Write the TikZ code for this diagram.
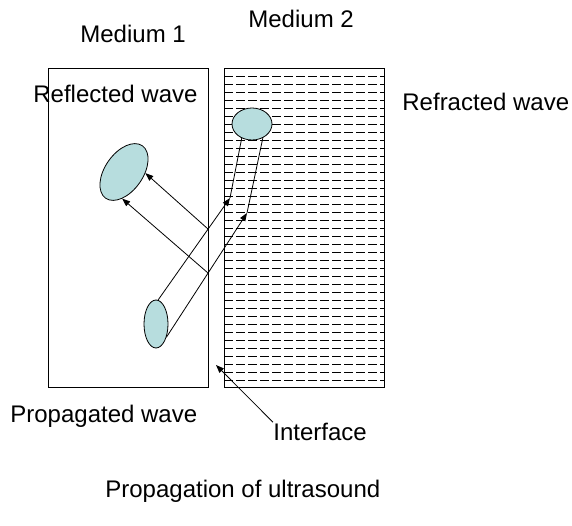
\documentclass[tikz,border=0pt]{standalone}
\usepackage{fontspec}
\setmainfont{Liberation Sans}
\usetikzlibrary{shapes.geometric,arrows.meta}
\definecolor{wavefill}{RGB}{183,221,222}
\begin{document}
\begin{tikzpicture}[x=1pt,y=-1pt,line width=0.8pt]
\tikzset{tiwave/.style={draw, ellipse, fill=wavefill, inner sep=0pt}}
\tikzset{tilabel/.style={anchor=base west, inner sep=0pt, font=\fontsize{24}{28}\selectfont}}
\tikzset{>={Triangle[length=8pt,width=6pt]}}
\useasboundingbox (0,0) rectangle (572,526);
\foreach \k in {0,...,38} \draw[dash pattern=on 9pt off 3pt] (224,76+8*\k) -- (384,76+8*\k);
\draw (48,68) rectangle (208,387);
\draw (224,68) rectangle (384,387);
\node[tiwave, minimum width=24pt, minimum height=48pt] (W1) at (156,324) {};
\node[tiwave, minimum width=64pt, minimum height=38pt, rotate=55] (W2) at (124,172) {};
\node[tiwave, minimum width=40pt, minimum height=32pt] (W3) at (252,124) {};
\coordinate (R1) at (230,198);
\coordinate (R2) at (247,213);
\coordinate (I1) at (208,229);
\coordinate (I2) at (208,273);
\coordinate (I3) at (216,365);
\draw[->] (W1.85) -- (R1);
\draw[->] (W1.-52) -- (R2);
\draw (R1) -- (W3.234);
\draw (R2) -- (W3.308);
\draw[->] (I1) -- (W2.-58);
\draw[->] (I2) -- (W2.211);
\node[tilabel] (L1) at (80,43) {Medium 1};
\node[tilabel] (L2) at (248,28) {Medium 2};
\node[tilabel] (L3) at (33,103) {Reflected wave};
\node[tilabel] (L4) at (402,111) {Refracted wave};
\node[tilabel] (L5) at (10,422) {Propagated wave};
\node[tilabel] (L6) at (273,440) {Interface};
\node[tilabel] (L7) at (105,497) {Propagation of ultrasound};
\draw[->] (L6.north west) -- (I3);
\end{tikzpicture}
\end{document}
